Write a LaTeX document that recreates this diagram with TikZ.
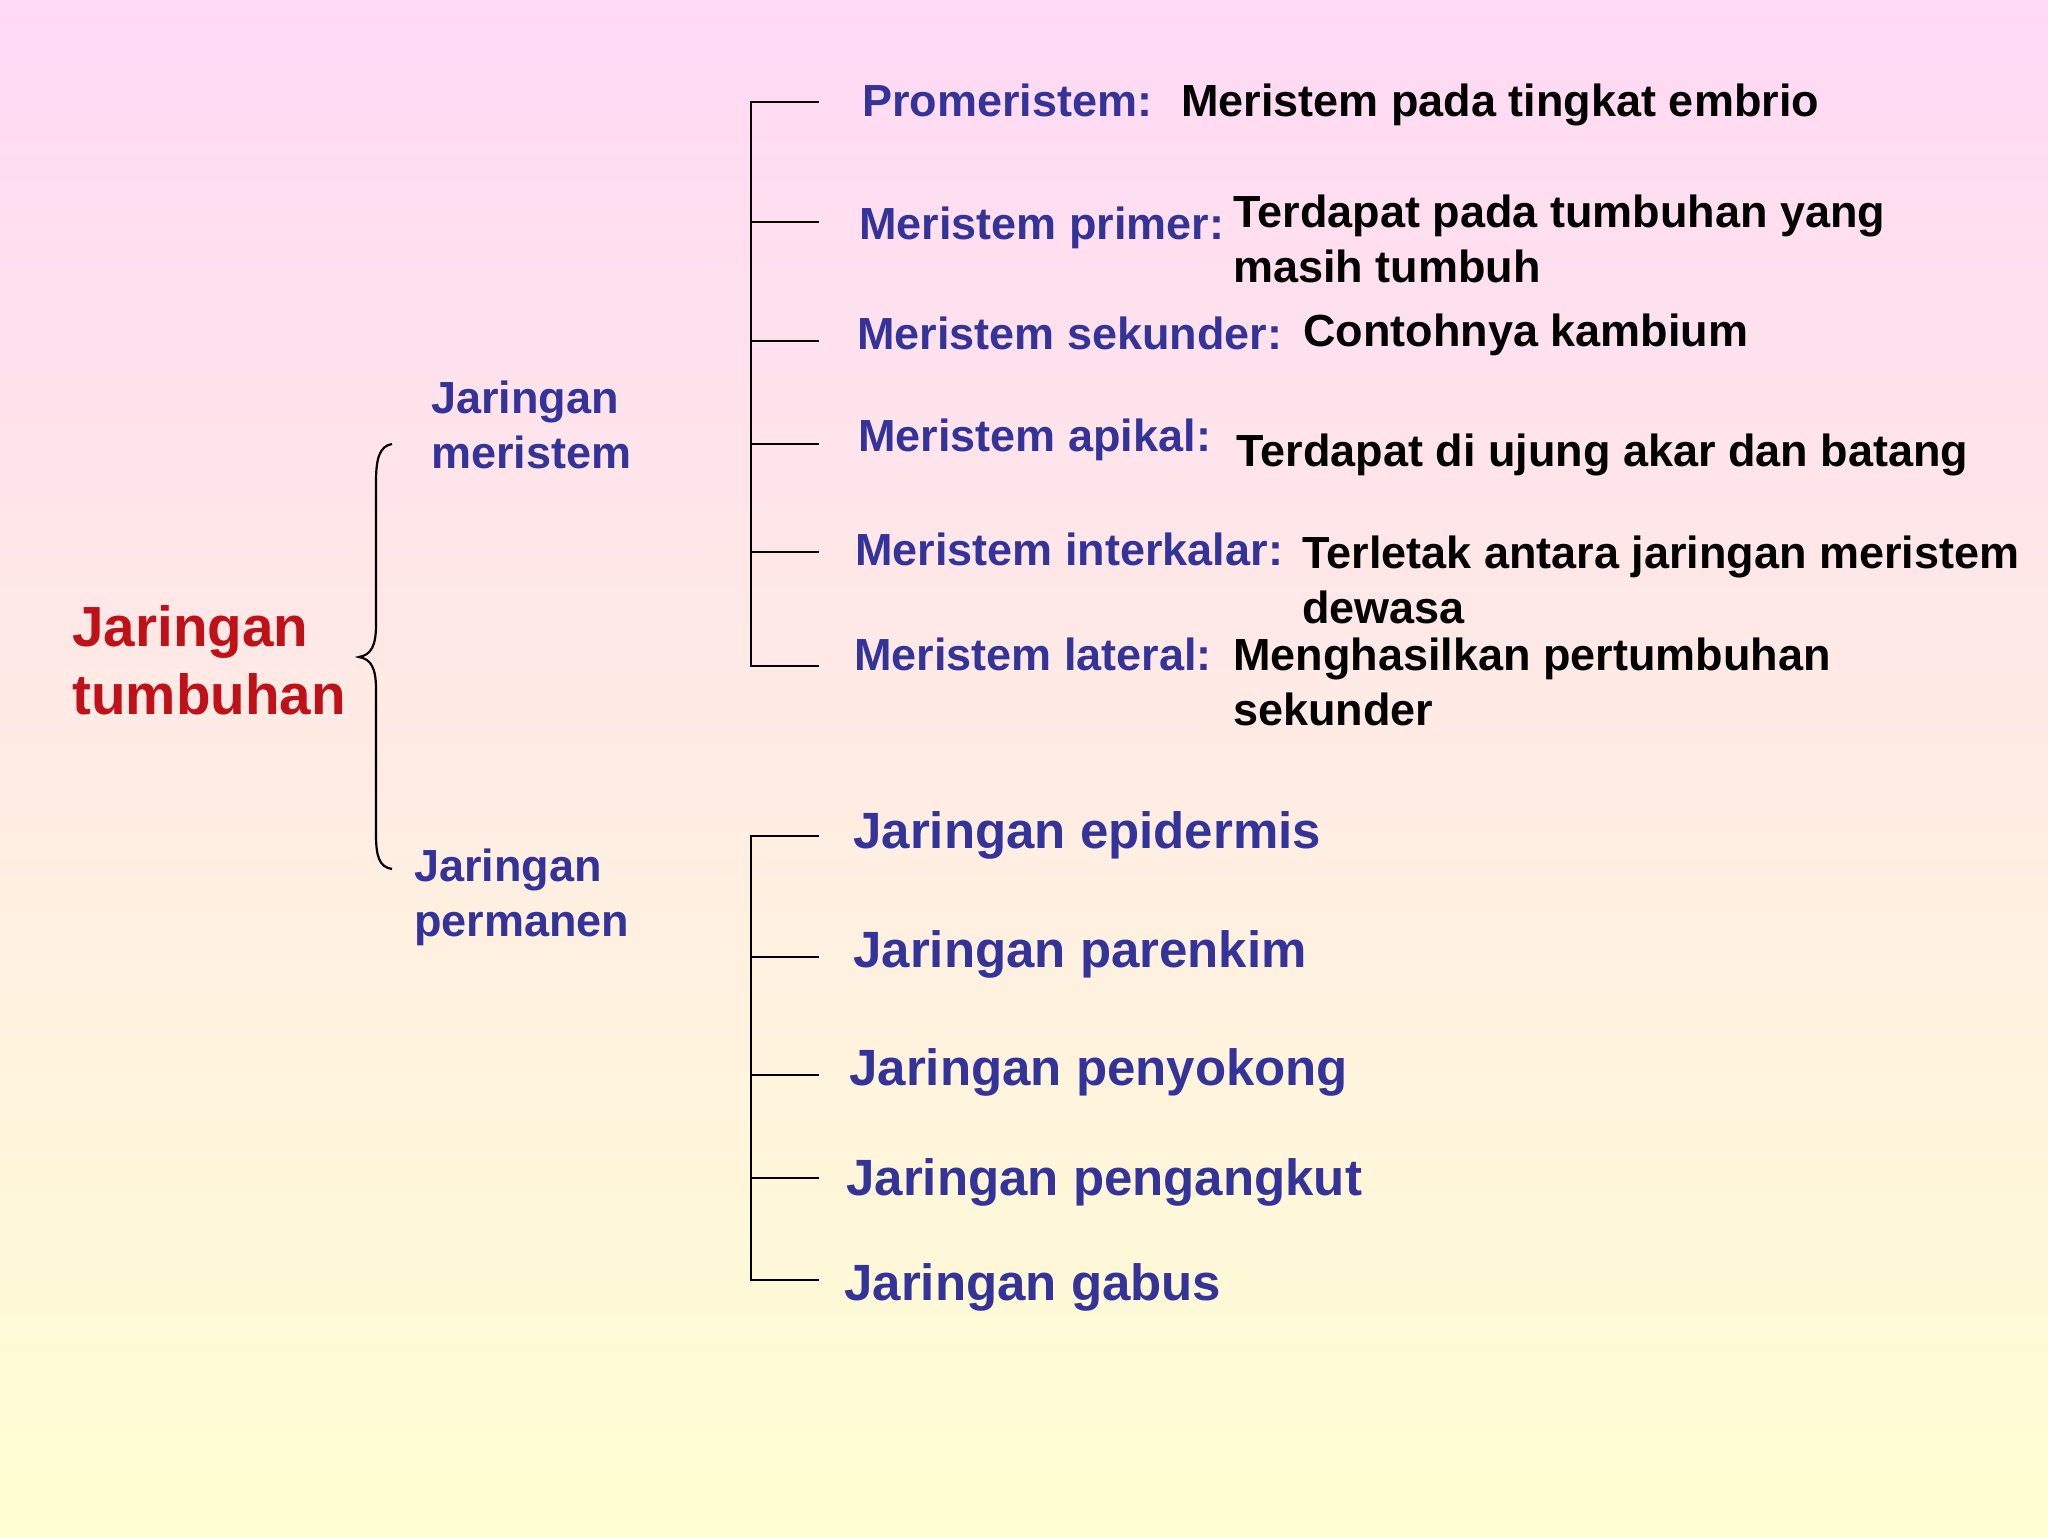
\documentclass[tikz,border=0pt]{standalone}
\usepackage{fontspec}
\setmainfont{Liberation Sans}
\definecolor{bgtop}{RGB}{255,217,245}
\definecolor{bgbot}{RGB}{255,255,210}
\definecolor{lblue}{RGB}{51,51,153}
\definecolor{lred}{RGB}{192,16,24}
\tikzset{
  lab/.style={anchor=west, inner sep=0pt, font=\bfseries\fontsize{22.5}{27.5}\selectfont, text=lblue, align=left},
  desc/.style={anchor=west, inner sep=0pt, font=\bfseries\fontsize{22.5}{27.5}\selectfont, text=black, align=left},
  big/.style={anchor=west, inner sep=0pt, font=\bfseries\fontsize{25.5}{31}\selectfont, text=lblue},
  root/.style={anchor=west, inner sep=0pt, font=\bfseries\fontsize{28.3}{34}\selectfont, text=lred, align=left},
  bline/.style={line width=1.1pt, black},
}
\begin{document}
\begin{tikzpicture}[x=0.5pt, y=-0.5pt]
\shade[top color=bgtop, bottom color=bgbot] (0,0) rectangle (2048,1536);
\useasboundingbox (0,0) rectangle (2048,1536);

% root and branches
\node[root] (root) at (72,660) {Jaringan\\tumbuhan};
\node[lab] (mer) at (431,425) {Jaringan\\meristem};
\node[lab] (perm) at (414,897) {Jaringan\\permanen};

% brace
\draw[bline] (392,444) .. controls (379,446) and (376,460) .. (376,482)
  -- (376,625) .. controls (376,646) and (371,655) .. (359,657)
  .. controls (371,659) and (376,668) .. (376,689)
  -- (376,834) .. controls (376,856) and (379,867) .. (392,869);

% meristem items
\node[lab] (pro) at (862,100) {Promeristem:};
\node[desc] (proD) at (1181,105) {Meristem pada tingkat embrio};
\node[lab] (pri) at (859,228) {Meristem primer:};
\node[desc] (priD) at (1233,239) {Terdapat pada tumbuhan yang\\masih tumbuh};
\node[lab] (sek) at (857,333) {Meristem sekunder:};
\node[desc] (sekD) at (1303,335) {Contohnya kambium};
\node[lab] (api) at (858,440) {Meristem apikal:};
\node[desc] (apiD) at (1236,455) {Terdapat di ujung akar dan batang};
\node[lab] (int) at (855,549) {Meristem interkalar:};
\node[desc] (intD) at (1302,580) {Terletak antara jaringan meristem\\dewasa};
\node[lab] (lat) at (854,654) {Meristem lateral:};
\node[desc] (latD) at (1233,682) {Menghasilkan pertumbuhan\\sekunder};

% permanent items
\node[big] (epi) at (853,835) {Jaringan epidermis};
\node[big] (par) at (853,954) {Jaringan parenkim};
\node[big] (pen) at (849,1072) {Jaringan penyokong};
\node[big] (ang) at (846,1182) {Jaringan pengangkut};
\node[big] (gab) at (844,1287) {Jaringan gabus};

% top bracket
\coordinate (t1) at (751,102); \coordinate (t1e) at (819,102);
\coordinate (t2) at (751,222); \coordinate (t2e) at (819,222);
\coordinate (t3) at (751,341); \coordinate (t3e) at (819,341);
\coordinate (t4) at (751,444); \coordinate (t4e) at (819,444);
\coordinate (t5) at (751,552); \coordinate (t5e) at (819,552);
\coordinate (t6) at (751,666); \coordinate (t6e) at (819,666);
\draw[bline] (t1e) -- (t1) -- (t6) -- (t6e);
\foreach \i in {2,3,4,5} \draw[bline] (t\i) -- (t\i e);

% bottom bracket
\coordinate (b1) at (751,836); \coordinate (b1e) at (819,836);
\coordinate (b2) at (751,957); \coordinate (b2e) at (819,957);
\coordinate (b3) at (751,1075); \coordinate (b3e) at (819,1075);
\coordinate (b4) at (751,1178); \coordinate (b4e) at (819,1178);
\coordinate (b5) at (751,1280); \coordinate (b5e) at (819,1280);
\draw[bline] (b1e) -- (b1) -- (b5) -- (b5e);
\foreach \i in {2,3,4} \draw[bline] (b\i) -- (b\i e);
\end{tikzpicture}
\end{document}
